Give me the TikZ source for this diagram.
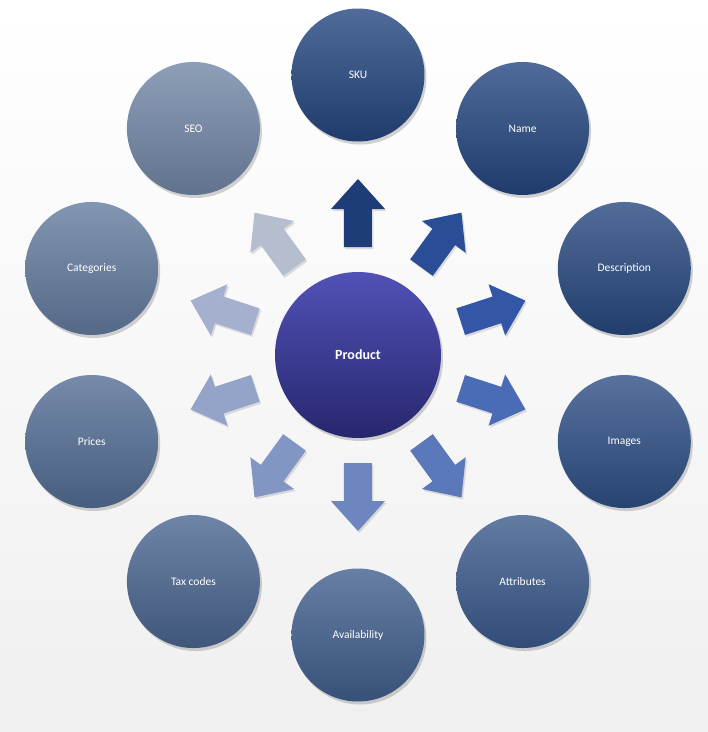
\documentclass[tikz,border=0pt]{standalone}
\usepackage{fontspec}
\setmainfont{Carlito}
\usetikzlibrary{shadows}
\begin{document}
\begin{tikzpicture}[x=1pt,y=1pt,
  outer/.style={circle,minimum size=133pt,inner sep=0pt,text=white,font=\fontsize{11.5}{13}\selectfont,drop shadow={opacity=0.35,shadow xshift=2pt,shadow yshift=-3pt}},
  arrowshape/.style={drop shadow={opacity=0.25,shadow xshift=1.5pt,shadow yshift=-2pt}}]
\useasboundingbox[top color=white,bottom color=gray!12] (-358,-377) rectangle (350,355);
\node[outer,minimum size=166pt,top color=blue!30!black!50!white!40!blue!60!gray,bottom color=blue!40!black!70!gray,font=\bfseries\fontsize{14}{16}\selectfont] (product) at (0,0) {Product};
\foreach \n/\lab/\a/\cc/\ac in {
  sku/SKU/90/24467F/1E3C78,
  name/Name/54/24467F/2A4E96,
  desc/Description/18/27487F/3356A6,
  img/Images/-18/2E4F85/4A6BB5,
  attr/Attributes/-54/3A5A8C/5B78BA,
  avail/Availability/-90/415F8E/6D86BF,
  tax/Tax codes/-126/4A6690/8296C4,
  price/Prices/-162/546E95/94A4C9,
  cat/Categories/162/637C9F/A4B0CD,
  seo/SEO/126/7286A6/B4BECF}{
  \definecolor{cc}{HTML}{\cc}\definecolor{ac}{HTML}{\ac}
  \node[outer,top color=cc!80!white,bottom color=cc!85!black] (\n) at (\a:280) {\lab};
  \begin{scope}[shift={(\a:142)},rotate=\a]
    \fill[ac,arrowshape] (-34,-14) -- (4,-14) -- (4,-27) -- (34,0) -- (4,27) -- (4,14) -- (-34,14) -- cycle;
  \end{scope}
}
\end{tikzpicture}
\end{document}
